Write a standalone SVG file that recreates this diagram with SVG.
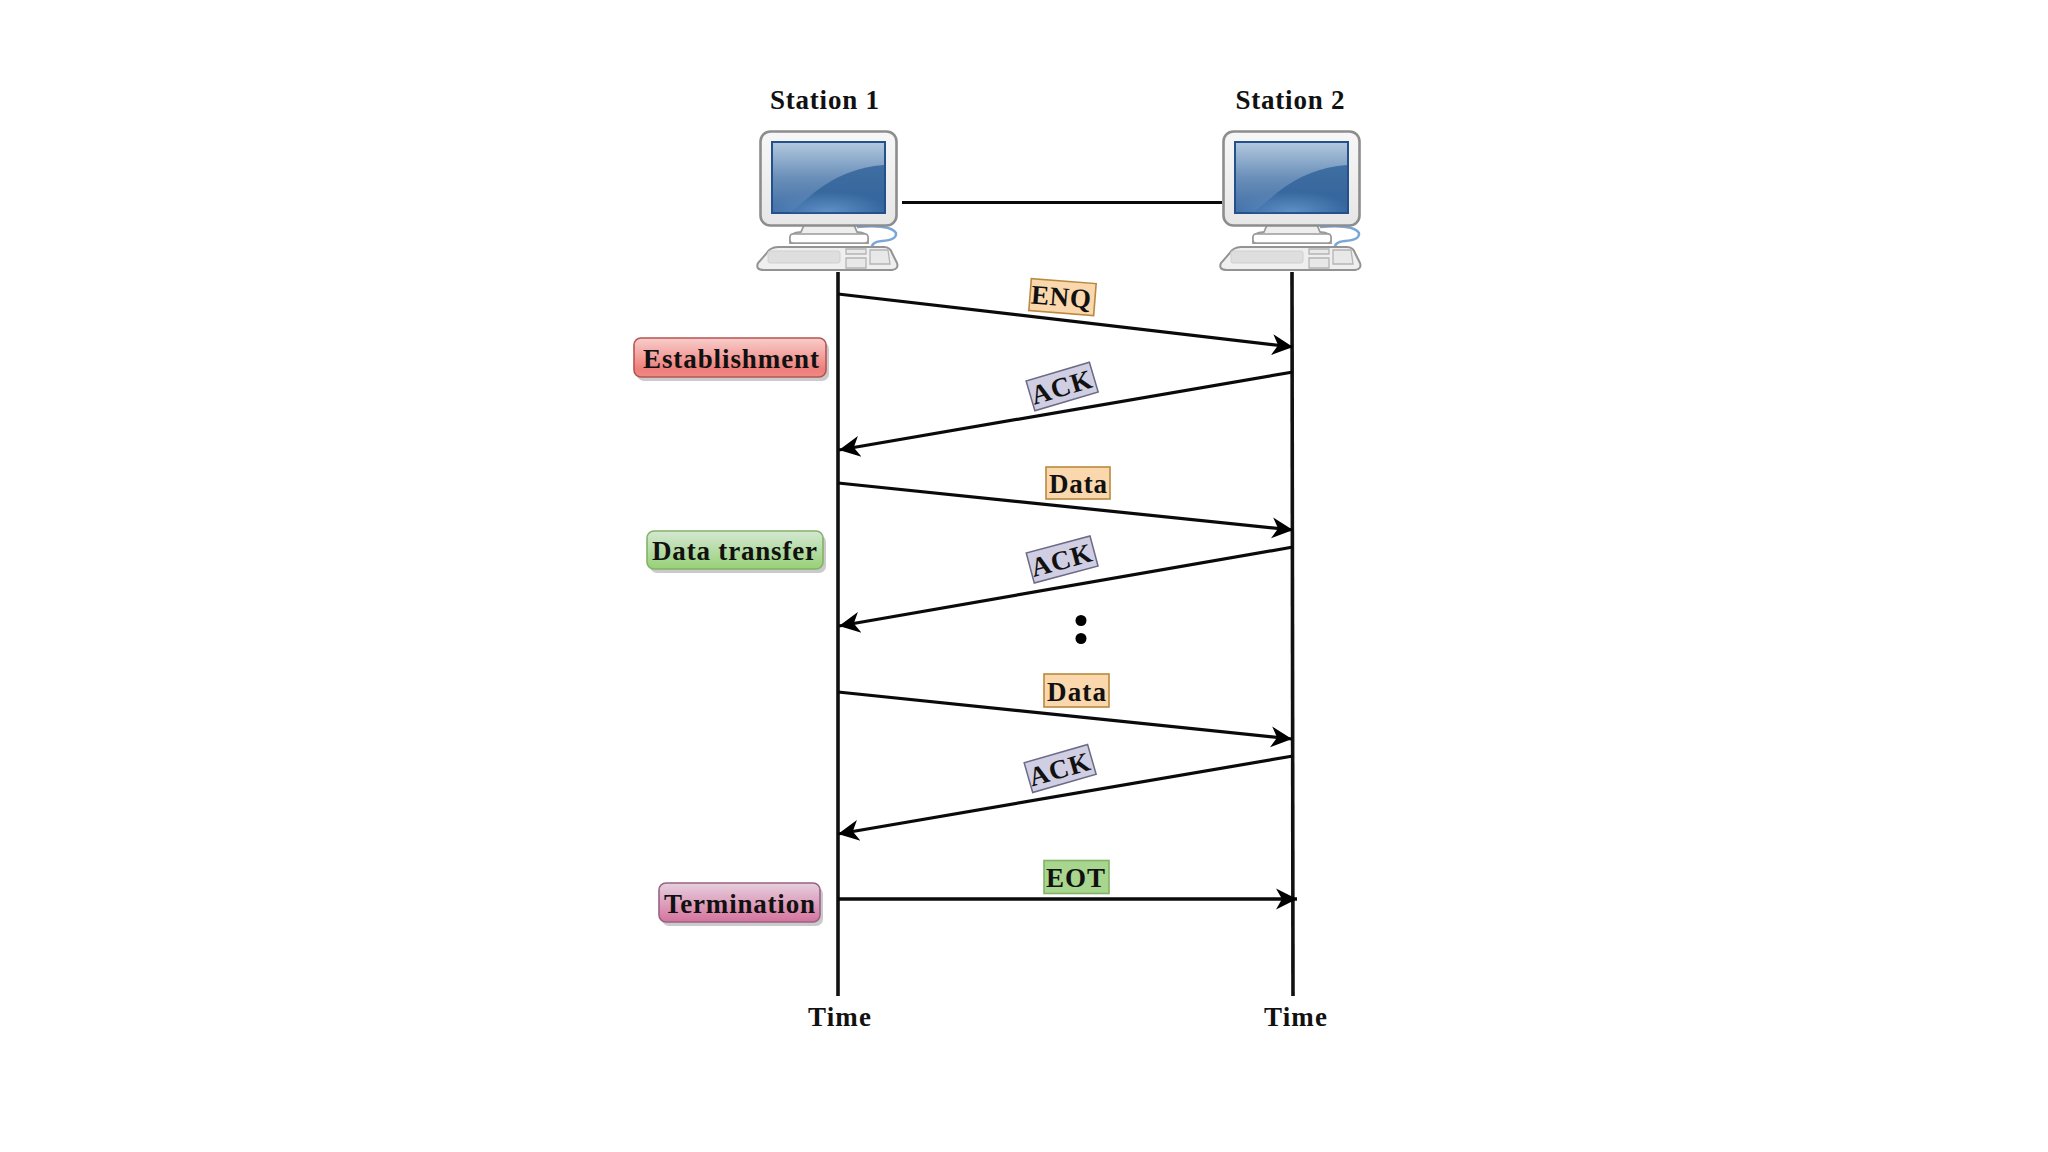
<svg xmlns="http://www.w3.org/2000/svg" width="2048" height="1152" viewBox="0 0 2048 1152">
<style>
text{font-family:"Liberation Serif","Times New Roman",serif;font-weight:bold;fill:#111;font-size:27px}
.ln{stroke:#0a0a0a;stroke-width:3.2;fill:none}
.ar{marker-end:url(#ah)}
.lifeline{stroke:#111;stroke-width:3.6;fill:none}
.orange{fill:#fad7ac;stroke:#b98a3e;stroke-width:1.6}
.lilac{fill:#d0cee2;stroke:#6c6a86;stroke-width:1.5}
.green{fill:#a9d68e;stroke:#82b366;stroke-width:1.6}
.shadow{fill:#bdbdbd;opacity:.8}
</style>
<defs>
<marker id="ah" markerUnits="userSpaceOnUse" markerWidth="24" markerHeight="24" refX="21" refY="12" orient="auto"><path d="M0,1.500 L21,12 L0,22.500 L6,12 Z" fill="#000"/></marker>
<linearGradient id="red" x1="0" y1="0" x2="0" y2="1"><stop offset="0" stop-color="#f8cecc"/><stop offset=".8" stop-color="#ee7f7b"/><stop offset="1" stop-color="#ee8a86"/></linearGradient>
<linearGradient id="grn" x1="0" y1="0" x2="0" y2="1"><stop offset="0" stop-color="#d5e8d4"/><stop offset="1" stop-color="#97d077"/></linearGradient>
<linearGradient id="pnk" x1="0" y1="0" x2="0" y2="1"><stop offset="0" stop-color="#e6d0de"/><stop offset="1" stop-color="#d5739d"/></linearGradient>
<linearGradient id="scr" x1="0" y1="0" x2="0" y2="1"><stop offset="0" stop-color="#b3c9df"/><stop offset=".5" stop-color="#6a8fb9"/><stop offset="1" stop-color="#3f6ea6"/></linearGradient>
<radialGradient id="glow" cx=".5" cy="1" r=".55"><stop offset="0" stop-color="#5f90c6"/><stop offset="1" stop-color="#5f90c6" stop-opacity="0"/></radialGradient>
<linearGradient id="bez" x1="0" y1="0" x2="0" y2="1"><stop offset="0" stop-color="#f7f7f7"/><stop offset="1" stop-color="#e6e6e6"/></linearGradient>
<g id="computer">
<path d="M857,227 Q890,224 896,233 Q897,240 882,241 Q870,242 872,250" fill="none" stroke="#7aa6d6" stroke-width="2.4"/>
<path d="M804,225 L801,232 Q790,233 790,238 L790,243 L868,243 L868,238 Q868,233 857,232 L854,225 Z" fill="#eeeeee" stroke="#9a9a9a" stroke-width="1.8"/>
<rect x="790" y="234" width="78" height="9" rx="3" fill="#fff" stroke="#9a9a9a" stroke-width="1.6"/>
<rect x="760.500" y="131.500" width="136" height="94" rx="10" fill="url(#bez)" stroke="#8d8d8d" stroke-width="2.6"/>
<rect x="772" y="142" width="113" height="71" fill="url(#scr)" stroke="#24518c" stroke-width="2"/>
<path d="M790,213 L815,192 Q845,168 884,165 L884,212 Z" fill="#2f6199" opacity=".8"/>
<rect x="773" y="175" width="111" height="37" fill="url(#glow)"/>
<path d="M778,247 L884,247 Q890,247 892,253 L897,263 Q899,269 892,270 L764,270 Q755,270 758,263 L766,254 Q770,247 778,247 Z" fill="#efefef" stroke="#939393" stroke-width="2"/>
<rect x="768" y="251" width="72" height="12" rx="2" fill="#dedede" stroke="#d0d0d0"/>
<path d="M846,249 H866 V254 H846 Z M846,258 H866 V268 H846 Z M870,250 H888 L890,264 H870 Z" fill="#e8e8e8" stroke="#b4b4b4" stroke-width="1.3"/>
</g>
</defs>
<rect width="2048" height="1152" fill="#fff"/>
<g id="connectors">
<path class="lifeline" d="M838,272 V996"/>
<path class="lifeline" d="M1292,272 L1293,996"/>
<path class="ln" d="M902,202.500 H1222"/>
<path class="ln ar" d="M838,294 L1293,347"/>
<path class="ln ar" d="M1293,372 L839,450"/>
<path class="ln ar" d="M838,483 L1293,530"/>
<path class="ln ar" d="M1293,547 L839,626"/>
<path class="ln ar" d="M838,692 L1292,739"/>
<path class="ln ar" d="M1293,756 L838,834"/>
<path class="ln ar" d="M838,899 H1297" style="stroke-width:3.6"/>
</g>
<g id="station1"><use href="#computer"/><text x="770" y="109" textLength="109">Station 1</text></g>
<g id="station2"><use href="#computer" transform="translate(463,0)"/><text x="1235.500" y="109" textLength="109">Station 2</text></g>
<g id="establishment"><rect class="shadow" x="637" y="342" width="192" height="39" rx="7"/><rect x="634" y="338" width="192" height="39" rx="7" fill="url(#red)" stroke="#b85450" stroke-width="1.6"/><text x="643" y="368" textLength="176">Establishment</text></g>
<g id="data-transfer"><rect class="shadow" x="650" y="535" width="176" height="38" rx="7"/><rect x="647" y="531" width="176" height="38" rx="7" fill="url(#grn)" stroke="#82b366" stroke-width="1.6"/><text x="652" y="560" textLength="165">Data transfer</text></g>
<g id="termination"><rect class="shadow" x="662" y="887" width="161" height="39" rx="7"/><rect x="659" y="883" width="161" height="39" rx="7" fill="url(#pnk)" stroke="#996185" stroke-width="1.6"/><text x="664" y="913" textLength="151">Termination</text></g>
<g id="enq" transform="rotate(4.5 1062 297)"><rect class="orange" x="1030" y="281" width="65" height="32"/><text x="1061" y="306" text-anchor="middle" textLength="60">ENQ</text></g>
<g id="ack1" transform="rotate(-16.500 1062 386)"><rect class="lilac" x="1029" y="371" width="66" height="31"/><text x="1061" y="396" text-anchor="middle" textLength="62">ACK</text></g>
<g id="data1"><rect class="orange" x="1046" y="467" width="64" height="32"/><text x="1049" y="493" textLength="58">Data</text></g>
<g id="ack2" transform="rotate(-15 1062 559)"><rect class="lilac" x="1029" y="544" width="66" height="31"/><text x="1061" y="569" text-anchor="middle" textLength="62">ACK</text></g>
<g id="ellipsis"><circle cx="1081" cy="620.500" r="5.500" fill="#000"/><circle cx="1081" cy="638.500" r="5.500" fill="#000"/></g>
<g id="data2"><rect class="orange" x="1044" y="674" width="65" height="33"/><text x="1047" y="701" textLength="59">Data</text></g>
<g id="ack3" transform="rotate(-16 1060 768)"><rect class="lilac" x="1027" y="753" width="66" height="31"/><text x="1059" y="778" text-anchor="middle" textLength="62">ACK</text></g>
<g id="eot"><rect class="green" x="1044" y="860.500" width="65" height="33"/><text x="1046" y="887" textLength="59">EOT</text></g>
<g id="time1"><text x="808" y="1026" textLength="63">Time</text></g>
<g id="time2"><text x="1264" y="1026" textLength="63">Time</text></g>
</svg>
